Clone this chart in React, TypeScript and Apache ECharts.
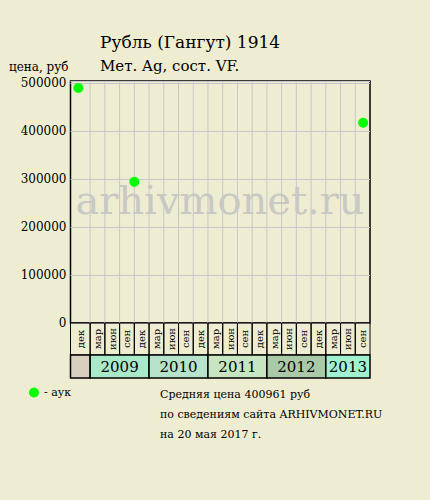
import { useEffect, useRef } from 'react';
import * as echarts from 'echarts';

// x — месяцы от 1 сентября 2008
const periodEdges = [0, 4, 7, 10, 13, 16, 19, 22, 25, 28, 31, 34, 37, 40, 43, 46, 49, 52, 55, 58, 61];
const periodLabels = [
  'дек',
  'мар', 'июн', 'сен', 'дек',
  'мар', 'июн', 'сен', 'дек',
  'мар', 'июн', 'сен', 'дек',
  'мар', 'июн', 'сен', 'дек',
  'мар', 'июн', 'сен',
];
const yearEdges = [0, 4, 16, 28, 40, 52, 61];
const yearLabels = ['', '2009', '2010', '2011', '2012', '2013'];
const yearColors = ['#d9cfbf', '#a9e8c9', '#b7e2cb', '#c6e5c0', '#a9c9a9', '#a1f1d1'];

// продажи
const saleMonths = [1.6, 13.0, 59.6];
const salePrices = [490500, 294500, 417883];

const yTicks = [0, 100000, 200000, 300000, 400000, 500000];
const yMax = 505000;

const FONT = "'DejaVu Serif', serif";
const BG = '#efedd1';
const GRID = '#c6c6cc';

export default function App() {
  const ref = useRef<HTMLDivElement>(null);

  useEffect(() => {
    document.body.style.margin = '0';
    if (!ref.current) return;
    const chart = echarts.init(ref.current, null, { renderer: 'svg' });

    const avg = Math.round(salePrices.reduce((a, b) => a + b, 0) / salePrices.length);

    chart.setOption({
      animation: false,
      backgroundColor: BG,
      title: {
        text: 'Рубль (Гангут) 1914',
        subtext: 'Мет. Ag, сост. VF.',
        left: 100,
        top: 33,
        itemGap: 8,
        padding: 0,
        textStyle: { fontFamily: FONT, fontSize: 17, fontWeight: 'normal', color: '#000' },
        subtextStyle: { fontFamily: FONT, fontSize: 15, color: '#000' },
      },
      legend: {
        left: 29,
        top: 387,
        padding: 0,
        icon: 'circle',
        itemWidth: 10,
        itemHeight: 10,
        formatter: '- {name}',
        textStyle: { fontFamily: FONT, fontSize: 11, color: '#000' },
        data: ['аук'],
      },
      graphic: [
        {
          type: 'text',
          x: 9,
          y: 61,
          style: { text: 'цена, руб', font: `12px ${FONT}`, fill: '#000' },
        },
        {
          type: 'text',
          x: 220,
          y: 200,
          z: 1,
          style: {
            text: 'arhivmonet.ru',
            font: `40px ${FONT}`,
            fill: '#c8c8c4',
            align: 'center',
            verticalAlign: 'middle',
          },
        },
        {
          type: 'text',
          x: 160,
          y: 384,
          style: {
            text: [
              `Средняя цена ${avg} руб`,
              'по сведениям сайта ARHIVMONET.RU',
              'на 20 мая 2017 г.',
            ].join('\n'),
            font: `11px ${FONT}`,
            lineHeight: 20,
            fill: '#000',
          },
        },
      ],
      grid: {
        left: 70.5,
        right: 60,
        top: 81,
        bottom: 177,
        show: true,
        borderColor: '#000',
        borderWidth: 1.5,
        backgroundColor: 'transparent',
      },
      xAxis: {
        type: 'value',
        min: periodEdges[0],
        max: periodEdges[periodEdges.length - 1],
        axisLine: { show: false },
        axisTick: { show: false },
        axisLabel: { show: false },
        splitLine: { show: false },
      },
      yAxis: {
        type: 'value',
        min: yTicks[0],
        max: yMax,
        interval: yTicks[1] - yTicks[0],
        axisLine: { show: false },
        axisTick: { show: false },
        axisLabel: {
          showMaxLabel: false,
          margin: 4,
          fontFamily: FONT,
          fontSize: 12,
          color: '#000',
          formatter: (v: number) => String(v),
        },
        splitLine: { lineStyle: { color: GRID, width: 1 } },
      },
      series: [
        {
          type: 'custom',
          name: 'periods',
          clip: false,
          silent: true,
          z: 0,
          data: periodLabels.map((_, i) => [periodEdges[i], periodEdges[i + 1]]),
          renderItem: (params: any, api: any) => {
            const i = params.dataIndex;
            const p0 = api.coord([api.value(0), 0]);
            const p1 = api.coord([api.value(1), yMax]);
            const x0 = p0[0];
            const x1 = p1[0];
            const yb = p0[1];
            const children: any[] = [
              {
                type: 'rect',
                shape: { x: x0, y: yb, width: x1 - x0, height: 32 },
                style: { fill: 'none', stroke: '#000', lineWidth: 1 },
              },
              {
                type: 'text',
                x: (x0 + x1) / 2,
                y: yb + 16,
                rotation: Math.PI / 2,
                style: {
                  text: periodLabels[i],
                  font: `10px ${FONT}`,
                  fill: '#000',
                  align: 'center',
                  verticalAlign: 'middle',
                },
              },
            ];
            if (i < periodLabels.length - 1) {
              children.push({
                type: 'line',
                shape: { x1: x1, y1: p1[1], x2: x1, y2: yb },
                style: { stroke: GRID, lineWidth: 1 },
              });
            }
            return { type: 'group', children };
          },
        },
        {
          type: 'custom',
          name: 'years',
          clip: false,
          silent: true,
          z: 0,
          data: yearLabels.map((_, i) => [yearEdges[i], yearEdges[i + 1]]),
          renderItem: (params: any, api: any) => {
            const i = params.dataIndex;
            const p0 = api.coord([api.value(0), 0]);
            const p1 = api.coord([api.value(1), 0]);
            const y = p0[1] + 32;
            return {
              type: 'group',
              children: [
                {
                  type: 'rect',
                  shape: { x: p0[0], y, width: p1[0] - p0[0], height: 23 },
                  style: { fill: yearColors[i], stroke: '#000', lineWidth: 1.5 },
                },
                {
                  type: 'text',
                  x: (p0[0] + p1[0]) / 2,
                  y: y + 12,
                  style: {
                    text: yearLabels[i],
                    font: `15px ${FONT}`,
                    fill: '#000',
                    align: 'center',
                    verticalAlign: 'middle',
                  },
                },
              ],
            };
          },
        },
        {
          type: 'scatter',
          name: 'аук',
          z: 5,
          symbol: 'circle',
          symbolSize: 10,
          itemStyle: { color: '#00ff00', opacity: 1 },
          data: saleMonths.map((m, i) => [m, salePrices[i]]),
        },
      ],
    });

    return () => chart.dispose();
  }, []);

  return <div ref={ref} style={{ width: 430, height: 500 }} />;
}
